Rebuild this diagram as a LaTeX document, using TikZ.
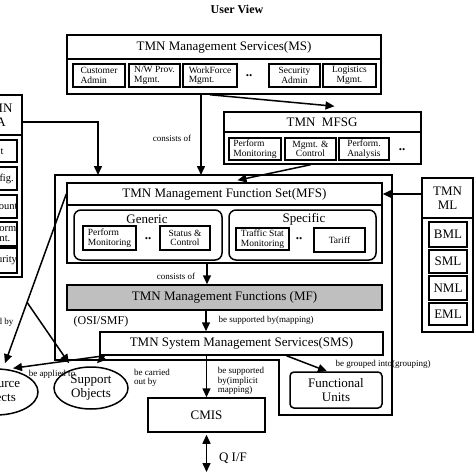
\documentclass[tikz,border=0pt]{standalone}
\usepackage{fontspec}
\setmainfont{Liberation Serif}
\usetikzlibrary{arrows.meta, positioning, shapes.geometric, calc}

\begin{document}
\begin{tikzpicture}[
    x=1pt, y=-1pt,
    frame/.style={draw, line width=1.5pt, inner sep=0pt},
    sbox/.style={draw, line width=1.5pt, inner sep=0pt, minimum width=#1, minimum height=23pt, font=\fontsize{9.5}{9.5}\selectfont, align=center},
    fbox/.style={draw, line width=1.5pt, inner sep=2pt, minimum width=37pt, minimum height=23pt, text width=33pt, align=right, font=\fontsize{10.5}{10.5}\selectfont},
    mbox/.style={draw, line width=1.5pt, inner sep=0pt, minimum width=38pt, minimum height=23pt, font=\fontsize{13}{13}\selectfont},
    ttl/.style={font=\fontsize{13}{14}\selectfont},
    lbl/.style={font=\fontsize{9}{9.5}\selectfont, align=left},
    arr/.style={line width=1.5pt, -{Triangle[length=9pt, width=8pt]}},
    dots/.style={font=\fontsize{13}{13}\selectfont\bfseries}
  ]
  \useasboundingbox (0,0) rectangle (474,474);

  % Title
  \node[font=\fontsize{12}{12}\selectfont\bfseries] (title) at (237,9) {User View};

  % Management services
  \node[frame, minimum width=314pt, minimum height=59pt] (ms) at (224,64.5) {};
  \draw[line width=1.5pt] (67,59) -- (381,59);
  \node[ttl] (mst) at (224,47) {TMN Management Services(MS)};
  \node[sbox=52pt, align=left] (cust) at (99,75.5) {Customer\\Admin};
  \node[sbox=51pt, align=left] (nwp) at (154.5,75.5) {N/W Prov.\\Mgmt.};
  \node[sbox=54pt, align=left] (wfm) at (210,75.5) {WorkForce\\Mgmt.};
  \node[dots] (msdots) at (249,76) {..};
  \node[sbox=51pt] (sec) at (294.5,75.5) {Security\\Admin};
  \node[sbox=53pt] (logi) at (349.5,75.5) {Logistics\\Mgmt.};

  % Function set groups
  \node[frame, minimum width=197pt, minimum height=52pt] (mfsg) at (322.5,138) {};
  \draw[line width=1.5pt] (224,132) -- (421,132);
  \node[ttl] (mfsgt) at (322,122) {TMN\ \ MFSG};
  \node[sbox=52pt, minimum height=22pt, align=left] (gpmon) at (255,149) {Perform\\Monitoring};
  \node[sbox=51pt, minimum height=22pt] (gmctl) at (310.5,149) {Mgmt. \&\\Control};
  \node[sbox=50pt, minimum height=22pt] (gpana) at (364,149) {Perform.\\Analysis};
  \node[dots] (gdots) at (402,150) {..};

  % Functional areas (left, cut off)
  \node[frame, minimum width=48pt, minimum height=182pt] (fa) at (-2,186) {};
  \draw[line width=1.5pt] (-26,135) -- (22,135);
  \node[ttl, align=center] (fat) at (-2,115) {TMN\\FA};
  \node[fbox, minimum height=22pt] (fault) at (-1.5,151) {Fault\kern12pt};
  \node[fbox] (conf) at (-1.5,178.5) {Config.\kern11pt};
  \node[fbox] (acct) at (-1.5,206.5) {Account};
  \node[fbox, minimum height=22pt, font=\fontsize{10.5}{10}\selectfont] (perf) at (-1.5,234) {Perform.\\Mgmt.\kern9pt};
  \node[fbox, minimum height=25pt] (secu) at (-1.5,260.5) {Security};

  % Management layers (right)
  \node[frame, minimum width=51pt, minimum height=154pt] (ml) at (447.5,255) {};
  \draw[line width=1.5pt] (422,218) -- (473,218);
  \node[ttl, align=center] (mlt) at (447.5,198) {TMN\\ML};
  \node[mbox, minimum height=25pt] (bml) at (448,234.5) {BML};
  \node[mbox] (sml) at (448,261.5) {SML};
  \node[mbox, minimum height=24pt] (nml) at (448,288) {NML};
  \node[mbox, minimum height=22pt] (eml) at (448,314) {EML};

  % MFS container
  \draw[line width=1.5pt] (55,175) -- (392,175) -- (392,415) -- (279,415) -- (279,360) -- (55,360) -- cycle;
  \coordinate (mfsa) at (98,175);
  \coordinate (mfsb) at (201,175);
  \node[frame, minimum width=315pt, minimum height=22pt, ttl] (mfst) at (224.5,194) {TMN Management Function Set(MFS)};
  \node[frame, minimum width=315pt, minimum height=58pt] (mfsbody) at (224.5,234) {};
  \node[frame, rounded corners=7pt, minimum width=148pt, minimum height=50pt] (gen) at (148,235) {};
  \node[ttl] (gent) at (147,219) {Generic};
  \node[sbox=53pt, minimum height=24pt, align=left] (pmon) at (109.5,238) {Perform\\Monitoring};
  \node[dots] (gendots) at (148,239) {..};
  \node[sbox=50pt, minimum height=24pt] (stat) at (185,238) {Status \&\\Control};
  \node[frame, rounded corners=7pt, minimum width=147pt, minimum height=50pt] (spec) at (302.5,235) {};
  \node[ttl] (spect) at (304,219) {Specific};
  \node[sbox=53pt, minimum height=22pt, align=left] (traf) at (262.5,239) {Traffic Stat\\Monitoring};
  \node[dots] (specdots) at (299,239) {..};
  \node[sbox=51pt, minimum height=24pt] (tarf) at (339.5,240) {Tariff};

  \node[frame, fill=gray!50, minimum width=315pt, minimum height=25pt, ttl] (mf) at (224.5,297.5) {TMN Management Functions (MF)};
  \node[font=\fontsize{12}{12}\selectfont] (osi) at (101,322) {(OSI/SMF)};
  \node[frame, minimum width=283pt, minimum height=23pt, ttl] (sms) at (241.5,343.5) {TMN System Management Services(SMS)};
  \node[frame, rounded corners=4pt, minimum width=92pt, minimum height=36pt, ttl, align=center] (fu) at (336,390) {Functional\\Units};

  % Objects and CMIS
  \node[ellipse, draw, line width=1.5pt, inner sep=0pt, minimum width=84pt, minimum height=46pt, ttl, align=center] (res) at (-4,392) {Resource\\Objects};
  \node[ellipse, draw, line width=1.5pt, inner sep=0pt, minimum width=74pt, minimum height=42pt, ttl, align=center] (sup) at (91,388) {Support\\Objects};
  \node[frame, minimum width=117pt, minimum height=34pt, ttl] (cmis) at (206.5,415) {CMIS};
  \coordinate (qif) at (206.5,472);

  % Arrows
  \draw[arr] ([xshift=-14pt]ms.south) -- ([xshift=12pt, yshift=5pt]mfsg.north);
  \draw[arr] ([xshift=-23pt]ms.south) -- (mfsb);
  \draw[arr] (fa.east |- 0,122) -| (mfsa);
  \draw[arr] ([xshift=-12pt]mfsg.south) -- ([xshift=13pt, yshift=2pt]mfst.north);
  \draw[arr] (ml.west |- mfst.east) -- (mfst.east);
  \draw[arr] ([xshift=-17.5pt]mfsbody.south) -- ([xshift=-17.5pt]mf.north);
  \draw[arr] ([xshift=-18.5pt]mf.south) -- ([xshift=-18.5pt]mf.south |- sms.north);
  \draw[arr] (mfst.west) -- ([xshift=9pt, yshift=5pt]res.north);
  \coordinate (br) at ($(mfst.west)!0.64!([xshift=9pt, yshift=5pt]res.north)$);
  \draw[arr] (br) -- ([xshift=-22pt, yshift=3pt]sup.north);
  \draw[arr] ([xshift=5pt]sms.south west) -- ([xshift=17pt]res.north);
  \draw[arr] ([xshift=5pt]sms.south west) -- ([xshift=6pt, yshift=3pt]sup.north);
  \draw[arr] (cmis.north |- sms.south) -- (cmis.north);
  \draw[arr] ([xshift=45pt]sms.south) -- ([xshift=-9pt]fu.north);
  \draw[line width=1.5pt, {Triangle[length=9pt, width=8pt]}-{Triangle[length=9pt, width=8pt]}] ([yshift=-2pt]cmis.south) -- (qif);

  % Labels
  \node[lbl] (l1) at (172,138) {consists of};
  \node[lbl] (l2) at (176,276) {consists of};
  \node[lbl] (l3) at (266,320) {be supported by(mapping)};
  \node[lbl, anchor=east] (l4) at (17,322) {be supported by};
  \node[lbl] (l5) at (52,374) {be applied to};
  \node[lbl] (l6) at (152,378) {be carried\\out by};
  \node[lbl] (l7) at (241,381) {be supported\\by(implicit\\mapping)};
  \node[lbl] (l8) at (383,364) {be grouped into(grouping)};
  \node[ttl] (l9) at (233,458) {Q I/F};

\end{tikzpicture}
\end{document}
